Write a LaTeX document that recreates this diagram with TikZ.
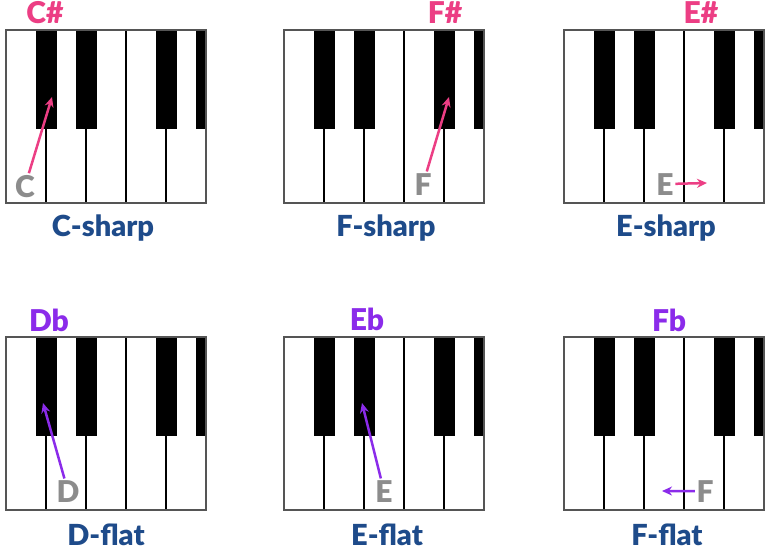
\documentclass[tikz,border=0pt]{standalone}
\usepackage{fontspec}
\setmainfont{Lato}[BoldFont={Lato Black}]
\usetikzlibrary{arrows.meta}
\definecolor{sharpcol}{HTML}{EC3E84}
\definecolor{flatcol}{HTML}{8B2BEA}
\definecolor{namecol}{HTML}{1E4B8A}
\definecolor{notecol}{HTML}{8C8C8C}
\definecolor{framecol}{HTML}{555555}
\tikzset{
  keyframe/.style={draw=framecol, line width=1.6pt, fill=white},
  divider/.style={draw=black, line width=2pt},
  blackkey/.style={fill=black, draw=none, inner sep=0pt, minimum width=21pt, minimum height=99pt, anchor=north},
  accname/.style={font=\bfseries\fontsize{30}{30}\selectfont, anchor=base, inner sep=0pt},
  sharplbl/.style={accname, text=sharpcol},
  flatlbl/.style={accname, text=flatcol},
  keyname/.style={font=\bfseries\fontsize{29}{29}\selectfont, text=namecol, anchor=base, inner sep=0pt},
  notelbl/.style={font=\bfseries\fontsize{30}{30}\selectfont, text=notecol, anchor=base, inner sep=1.5pt},
  sharparr/.style={draw=sharpcol, line width=2.5pt, -{Stealth[length=10pt,width=9pt]}},
  flatarr/.style={draw=flatcol, line width=2.5pt, -{Stealth[length=10pt,width=9pt]}}
}
\newcommand\keyboard[3]{%
  \begin{scope}[shift={(#1,#2)}]
    \draw[keyframe] (0,0) rectangle (200,173);
    \foreach \i in {40,80,120,160} \draw[divider] (\i,0) -- (\i,173);
    \node[blackkey] (#3b1) at (40,0) {};
    \node[blackkey] (#3b2) at (80,0) {};
    \node[blackkey] (#3b3) at (160,0) {};
    \fill[black] (189.5,0) rectangle (200,99);
    \draw[draw=framecol, line width=1.6pt] (0,0) rectangle (200,173);
  \end{scope}}
\begin{document}
\begin{tikzpicture}[x=1pt,y=-1pt]
\useasboundingbox (0,0) rectangle (768,550);
\fill[white] (0,0) rectangle (768,550);
% keyboards
\keyboard{6}{30}{k1}
\keyboard{284}{30}{k2}
\keyboard{564}{30}{k3}
\keyboard{6}{337}{k4}
\keyboard{284}{337}{k5}
\keyboard{564}{337}{k6}
% top labels
\node[sharplbl] (l1) at (45,23) {C\#};
\node[sharplbl] (l2) at (445,23) {F\#};
\node[sharplbl] (l3) at (701,23) {E\#};
\node[flatlbl] (l4) at (49,331) {Db};
\node[flatlbl] (l5) at (367,330) {Eb};
\node[flatlbl] (l6) at (669,331) {Fb};
% names
\node[keyname] (n1) at (103,236) {C-sharp};
\node[keyname] (n2) at (386,236) {F-sharp};
\node[keyname] (n3) at (666,236) {E-sharp};
\node[keyname] (n4) at (106,545) {D-flat};
\node[keyname] (n5) at (387,545) {E-flat};
\node[keyname] (n6) at (667,545) {F-flat};
% note letters
\node[notelbl] (g1) at (25,197) {C};
\node[notelbl] (g2) at (423,195) {F};
\node[notelbl] (g3) at (665,195) {E};
\node[notelbl] (g4) at (68,502) {D};
\node[notelbl] (g5) at (384,502) {E};
\node[notelbl] (g6) at (705,502) {F};
% arrow tips
\coordinate (t1) at (52,97);
\coordinate (t2) at (449,97);
\coordinate (t3) at (707,183);
\coordinate (t4) at (43,403);
\coordinate (t5) at (362,403);
\coordinate (t6) at (662,491);
\draw[sharparr] (g1) -- (t1);
\draw[sharparr] (g2) -- (t2);
\draw[sharparr] (g3) -- (t3);
\draw[flatarr] (g4) -- (t4);
\draw[flatarr] (g5) -- (t5);
\draw[flatarr] (g6) -- (t6);
\end{tikzpicture}
\end{document}
